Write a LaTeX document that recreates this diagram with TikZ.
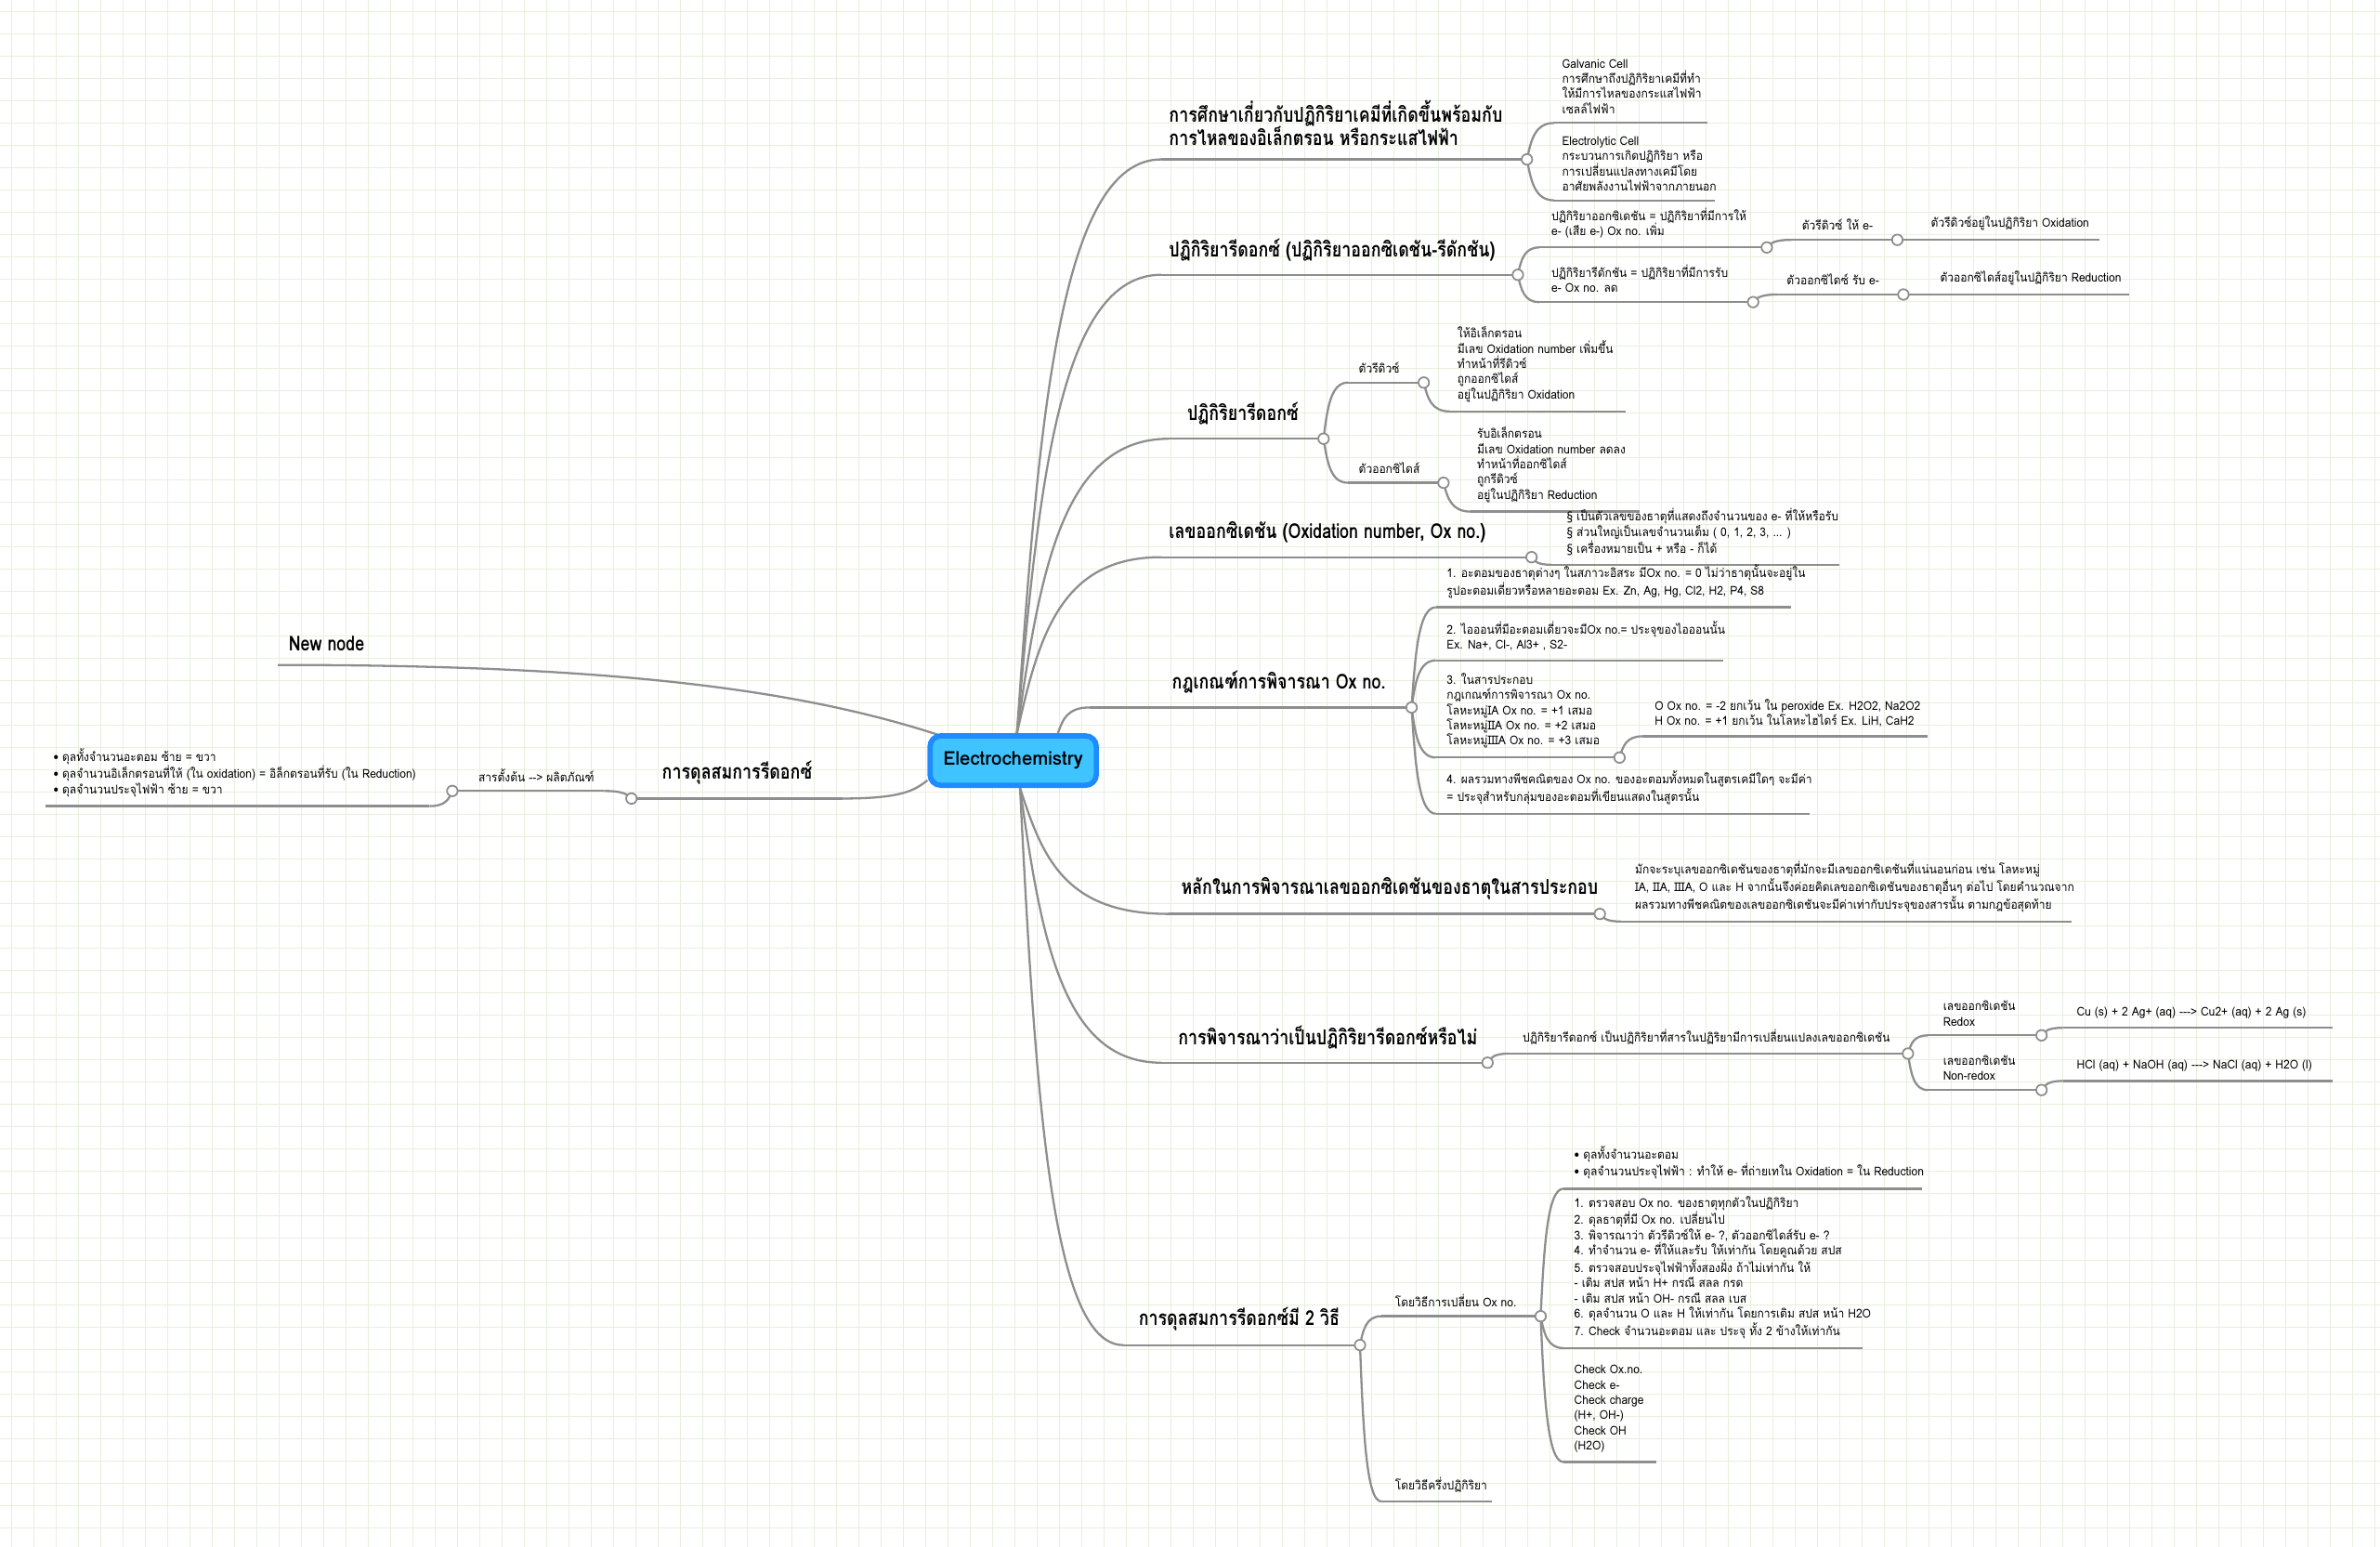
\documentclass[tikz,border=0pt]{standalone}
\usepackage{fontspec}
\setmainfont[Script=Thai, FakeStretch=0.92]{Loma}
\newfontfamily\hdfont[Script=Thai, FakeStretch=0.81]{Loma}
\newfontfamily\ctrfont[Script=Thai]{Loma}
\usetikzlibrary{calc}
\definecolor{lnc}{HTML}{8E8E8E}
\definecolor{grd}{HTML}{E6F0DC}
\definecolor{bdr}{HTML}{1E8CFF}
\definecolor{fil}{HTML}{40C4FF}
\tikzset{
 mml/.style={draw=lnc, line width=1.4pt},
 dot/.style={circle, draw=lnc, fill=white, line width=1.1pt, inner sep=0pt, minimum size=7pt},
 hd/.style={anchor=south west, inner sep=0pt, align=left, text=black, font=\hdfont\fontsize{13.5}{15.5}\selectfont\bfseries},
 txt/.style={anchor=south west, inner sep=0pt, align=left, text=black, font=\fontsize{8}{10}\selectfont},
}
\newcommand\mmc[2]{\draw[mml] let \p1=(#1), \p2=(#2) in (\p1) .. controls ({\x1+0.15*(\x2-\x1)},{\y1+0.55*(\y2-\y1)}) and ({\x1+0.3*(\x2-\x1)},{\y2}) .. (\p2);}
\begin{document}
\begin{tikzpicture}[x=1pt,y=-1pt]
\useasboundingbox (0,0) rectangle (1568,1019);
\fill[white] (0,0) rectangle (1568,1019);
\foreach \i in {0,...,106} {\draw[grd, line width=0.5pt] ({7.5+\i*14.69},0) -- ++(0,1019);}
\foreach \i in {0,...,69} {\draw[grd, line width=0.5pt] (0,{7.5+\i*14.69}) -- ++(1568,0);}

% ---------- coordinates
\coordinate (cT) at (670,483);
\coordinate (cT5) at (697,483);
\coordinate (cB) at (672,519);
\coordinate (cL1) at (618,484);
\coordinate (cL2) at (611,514);
% B1
\coordinate (B1s) at (765,105); \coordinate (B1o) at (1006,105);
\coordinate (G1s) at (1024,81); \coordinate (G1e) at (1125,81);
\coordinate (E1s) at (1024,132); \coordinate (E1e) at (1130,132);
% B2
\coordinate (B2s) at (765,181); \coordinate (B2o) at (1000,181);
\coordinate (OXs) at (1014,163); \coordinate (OXo) at (1164,163);
\coordinate (OAs) at (1180,158); \coordinate (OAo) at (1250,158);
\coordinate (OBs) at (1265,158); \coordinate (OBe) at (1383,158);
\coordinate (RDs) at (1014,199); \coordinate (RDo) at (1155,199);
\coordinate (RAs) at (1171,194); \coordinate (RAo) at (1254,194);
\coordinate (RBs) at (1268,194); \coordinate (RBe) at (1403,194);
% B3
\coordinate (B3s) at (770,289); \coordinate (B3o) at (872,289);
\coordinate (rAs) at (888,252); \coordinate (rAo) at (938,252);
\coordinate (rCs) at (955,271); \coordinate (rCe) at (1071,271);
\coordinate (oAs) at (888,318); \coordinate (oAo) at (951,318);
\coordinate (oCs) at (969,337); \coordinate (oCe) at (1080,337);
% B4
\coordinate (B4s) at (765,367); \coordinate (B4o) at (1009,367);
\coordinate (B4cs) at (1022,372); \coordinate (B4ce) at (1212,372);
% B5
\coordinate (B5s) at (718,466); \coordinate (B5o) at (930,466);
\coordinate (R1s) at (946,400); \coordinate (R1e) at (1180,400);
\coordinate (R2s) at (946,435); \coordinate (R2e) at (1135,435);
\coordinate (R3s) at (946,499); \coordinate (R3o) at (1067,499);
\coordinate (R3cs) at (1082,485); \coordinate (R3ce) at (1270,485);
\coordinate (R4s) at (946,536); \coordinate (R4e) at (1192,536);
% B6
\coordinate (B6s) at (770,602); \coordinate (B6o) at (1054,602);
\coordinate (B6cs) at (1068,607); \coordinate (B6ce) at (1365,607);
% B7
\coordinate (B7s) at (765,700); \coordinate (B7o) at (980,700);
\coordinate (B7cs) at (994,694); \coordinate (B7co) at (1257,694);
\coordinate (RXs) at (1270,682); \coordinate (RXo) at (1345,682);
\coordinate (CUs) at (1359,677); \coordinate (CUe) at (1537,677);
\coordinate (NRs) at (1270,718); \coordinate (NRo) at (1345,718);
\coordinate (HCs) at (1359,712); \coordinate (HCe) at (1537,712);
% B8
\coordinate (B8s) at (740,886); \coordinate (B8o) at (896,886);
\coordinate (M1s) at (910,867); \coordinate (M1o) at (1015,867);
\coordinate (MAs) at (1030,783); \coordinate (MAe) at (1266,783);
\coordinate (MBs) at (1030,888); \coordinate (MBe) at (1227,888);
\coordinate (MCs) at (1030,963); \coordinate (MCe) at (1091,963);
\coordinate (M2s) at (910,989); \coordinate (M2e) at (983,989);
% left
\coordinate (L1s) at (183,438);
\coordinate (L2o) at (416,526); \coordinate (L2e) at (555,526);
\coordinate (LCo) at (298,521); \coordinate (LCe) at (398,521);
\coordinate (LDs) at (30,531); \coordinate (LDe) at (283,531);

% ---------- connectors
\mmc{cT}{B1s} \draw[mml] (B1s) -- (B1o);
\mmc{B1o}{G1s} \draw[mml] (G1s) -- (G1e);
\mmc{B1o}{E1s} \draw[mml] (E1s) -- (E1e);
\mmc{cT}{B2s} \draw[mml] (B2s) -- (B2o);
\mmc{B2o}{OXs} \draw[mml] (OXs) -- (OXo);
\mmc{OXo}{OAs} \draw[mml] (OAs) -- (OAo);
\draw[mml] (OAo) -- (OBs) -- (OBe);
\mmc{B2o}{RDs} \draw[mml] (RDs) -- (RDo);
\mmc{RDo}{RAs} \draw[mml] (RAs) -- (RAo);
\draw[mml] (RAo) -- (RBs) -- (RBe);
\mmc{cT}{B3s} \draw[mml] (B3s) -- (B3o);
\mmc{B3o}{rAs} \draw[mml] (rAs) -- (rAo);
\mmc{rAo}{rCs} \draw[mml] (rCs) -- (rCe);
\mmc{B3o}{oAs} \draw[mml] (oAs) -- (oAo);
\mmc{oAo}{oCs} \draw[mml] (oCs) -- (oCe);
\mmc{cT}{B4s} \draw[mml] (B4s) -- (B4o);
\mmc{B4o}{B4cs} \draw[mml] (B4cs) -- (B4ce);
\mmc{cT5}{B5s} \draw[mml] (B5s) -- (B5o);
\mmc{B5o}{R1s} \draw[mml] (R1s) -- (R1e);
\mmc{B5o}{R2s} \draw[mml] (R2s) -- (R2e);
\mmc{B5o}{R3s} \draw[mml] (R3s) -- (R3o);
\mmc{R3o}{R3cs} \draw[mml] (R3cs) -- (R3ce);
\mmc{B5o}{R4s} \draw[mml] (R4s) -- (R4e);
\mmc{cB}{B6s} \draw[mml] (B6s) -- (B6o);
\mmc{B6o}{B6cs} \draw[mml] (B6cs) -- (B6ce);
\mmc{cB}{B7s} \draw[mml] (B7s) -- (B7o);
\mmc{B7o}{B7cs} \draw[mml] (B7cs) -- (B7co);
\mmc{B7co}{RXs} \draw[mml] (RXs) -- (RXo);
\mmc{RXo}{CUs} \draw[mml] (CUs) -- (CUe);
\mmc{B7co}{NRs} \draw[mml] (NRs) -- (NRo);
\mmc{NRo}{HCs} \draw[mml] (HCs) -- (HCe);
\mmc{cB}{B8s} \draw[mml] (B8s) -- (B8o);
\mmc{B8o}{M1s} \draw[mml] (M1s) -- (M1o);
\mmc{M1o}{MAs} \draw[mml] (MAs) -- (MAe);
\mmc{M1o}{MBs} \draw[mml] (MBs) -- (MBe);
\mmc{M1o}{MCs} \draw[mml] (MCs) -- (MCe);
\mmc{B8o}{M2s} \draw[mml] (M2s) -- (M2e);
\draw[mml] (L1s) .. controls (390,438) and (520,452) .. (cL1);
\mmc{cL2}{L2e} \draw[mml] (L2e) -- (L2o);
\mmc{L2o}{LCe} \draw[mml] (LCe) -- (LCo);
\mmc{LCo}{LDe} \draw[mml] (LDe) -- (LDs);

% ---------- dots
\foreach \c in {B1o,B2o,OXo,OAo,RDo,RAo,B3o,rAo,oAo,B4o,B5o,R3o,B6o,B7o,B7co,RXo,NRo,B8o,M1o,L2o,LCo}
  {\node[dot] (d\c) at (\c) {};}

% ---------- texts
\node[hd] (tB1) at (770,96) {การศึกษาเกี่ยวกับปฏิกิริยาเคมีที่เกิดขึ้นพร้อมกับ\\การไหลของอิเล็กตรอน หรือกระแสไฟฟ้า};
\node[txt] (tG1) at (1029,75) {Galvanic Cell\\การศึกษาถึงปฏิกิริยาเคมีที่ทำ\\ให้มีการไหลของกระแสไฟฟ้า\\เซลล์ไฟฟ้า};
\node[txt] (tE1) at (1029,126) {Electrolytic Cell\\กระบวนการเกิดปฏิกิริยา หรือ\\การเปลี่ยนแปลงทางเคมีโดย\\อาศัยพลังงานไฟฟ้าจากภายนอก};

\node[hd] (tB2) at (770,172) {ปฏิกิริยารีดอกซ์ (ปฏิกิริยาออกซิเดชัน-รีดักชัน)};
\node[txt] (tOX) at (1022,157) {ปฏิกิริยาออกซิเดชัน = ปฏิกิริยาที่มีการให้\\e- (เสีย e-) Ox no. เพิ่ม};
\node[txt] (tOA) at (1187,152) {ตัวรีดิวซ์ ให้ e-};
\node[txt] (tOB) at (1272,152) {ตัวรีดิวซ์อยู่ในปฏิกิริยา Oxidation};
\node[txt] (tRD) at (1022,193) {ปฏิกิริยารีดักชัน = ปฏิกิริยาที่มีการรับ\\e- Ox no. ลด};
\node[txt] (tRA) at (1177,188) {ตัวออกซิไดซ์ รับ e-};
\node[txt] (tRB) at (1278,188) {ตัวออกซิไดส์อยู่ในปฏิกิริยา Reduction};

\node[hd] (tB3) at (782,280) {ปฏิกิริยารีดอกซ์};
\node[txt] (trA) at (895,246) {ตัวรีดิวซ์};
\node[txt] (trC) at (960,265) {ให้อิเล็กตรอน\\มีเลข Oxidation number เพิ่มขึ้น\\ทำหน้าที่รีดิวซ์\\ถูกออกซิไดส์\\อยู่ในปฏิกิริยา Oxidation};
\node[txt] (toA) at (895,312) {ตัวออกซิไดส์};
\node[txt] (toC) at (973,331) {รับอิเล็กตรอน\\มีเลข Oxidation number ลดลง\\ทำหน้าที่ออกซิไดส์\\ถูกรีดิวซ์\\อยู่ในปฏิกิริยา Reduction};

\node[hd] (tB4) at (770,358) {เลขออกซิเดชัน (Oxidation number, Ox no.)};
\node[txt] (tB4c) at (1032,366) {§ เป็นตัวเลขของธาตุที่แสดงถึงจำนวนของ e- ที่ให้หรือรับ\\§ ส่วนใหญ่เป็นเลขจำนวนเต็ม ( 0, 1, 2, 3, ... )\\§ เครื่องหมายเป็น + หรือ - ก็ได้};

\node[hd] (tB5) at (772,457) {กฎเกณฑ์การพิจารณา Ox no.};
\node[txt] (tR1) at (953,394) {1. อะตอมของธาตุต่างๆ ในสภาวะอิสระ มีOx no. = 0 ไม่ว่าธาตุนั้นจะอยู่ใน\\รูปอะตอมเดี่ยวหรือหลายอะตอม Ex. Zn, Ag, Hg, Cl2, H2, P4, S8};
\node[txt] (tR2) at (953,429) {2. ไอออนที่มีอะตอมเดี่ยวจะมีOx no.= ประจุของไอออนนั้น\\Ex. Na+, Cl-, Al3+ , S2-};
\node[txt] (tR3) at (953,493) {3. ในสารประกอบ\\กฎเกณฑ์การพิจารณา Ox no.\\โลหะหมู่IA Ox no. = +1 เสมอ\\โลหะหมู่IIA Ox no. = +2 เสมอ\\โลหะหมู่IIIA Ox no. = +3 เสมอ};
\node[txt] (tR3c) at (1090,479) {O Ox no. = -2 ยกเว้น ใน peroxide Ex. H2O2, Na2O2\\H Ox no. = +1 ยกเว้น ในโลหะไฮไดร์ Ex. LiH, CaH2};
\node[txt] (tR4) at (953,530) {4. ผลรวมทางพีชคณิตของ Ox no. ของอะตอมทั้งหมดในสูตรเคมีใดๆ จะมีค่า\\= ประจุสำหรับกลุ่มของอะตอมที่เขียนแสดงในสูตรนั้น};

\node[hd] (tB6) at (778,593) {หลักในการพิจารณาเลขออกซิเดชันของธาตุในสารประกอบ};
\node[txt] (tB6c) at (1077,601) {มักจะระบุเลขออกซิเดชันของธาตุที่มักจะมีเลขออกซิเดชันที่แน่นอนก่อน เช่น โลหะหมู่\\IA, IIA, IIIA, O และ H จากนั้นจึงค่อยคิดเลขออกซิเดชันของธาตุอื่นๆ ต่อไป โดยคำนวณจาก\\ผลรวมทางพีชคณิตของเลขออกซิเดชันจะมีค่าเท่ากับประจุของสารนั้น ตามกฎข้อสุดท้าย};

\node[hd] (tB7) at (776,691) {การพิจารณาว่าเป็นปฏิกิริยารีดอกซ์หรือไม่};
\node[txt] (tB7c) at (1003,688) {ปฏิกิริยารีดอกซ์ เป็นปฏิกิริยาที่สารในปฏิริยามีการเปลี่ยนแปลงเลขออกซิเดชัน};
\node[txt] (tRX) at (1280,676) {เลขออกซิเดชัน\\Redox};
\node[txt] (tCU) at (1368,671) {Cu (s) + 2 Ag+ (aq) -{}-{}-> Cu2+ (aq) + 2 Ag (s)};
\node[txt] (tNR) at (1280,712) {เลขออกซิเดชัน\\Non-redox};
\node[txt] (tHC) at (1368,706) {HCl (aq) + NaOH (aq) -{}-{}-> NaCl (aq) + H2O (l)};

\node[hd] (tB8) at (750,877) {การดุลสมการรีดอกซ์มี 2 วิธี};
\node[txt] (tM1) at (919,861) {โดยวิธีการเปลี่ยน Ox no.};
\node[txt] (tMA) at (1037,777) {• ดุลทั้งจำนวนอะตอม\\• ดุลจำนวนประจุไฟฟ้า : ทำให้ e- ที่ถ่ายเทใน Oxidation = ใน Reduction};
\node[txt] (tMB) at (1037,882) {1. ตรวจสอบ Ox no. ของธาตุทุกตัวในปฏิกิริยา\\2. ดุลธาตุที่มี Ox no. เปลี่ยนไป\\3. พิจารณาว่า ตัวรีดิวซ์ให้ e- ?, ตัวออกซิไดส์รับ e- ?\\4. ทำจำนวน e- ที่ให้และรับ ให้เท่ากัน โดยคูณด้วย สปส\\5. ตรวจสอบประจุไฟฟ้าทั้งสองฝั่ง ถ้าไม่เท่ากัน ให้\\- เติม สปส หน้า H+ กรณี สลล กรด\\- เติม สปส หน้า OH- กรณี สลล เบส\\6. ดุลจำนวน O และ H ให้เท่ากัน โดยการเติม สปส หน้า H2O\\7. Check จำนวนอะตอม และ ประจุ ทั้ง 2 ข้างให้เท่ากัน};
\node[txt] (tMC) at (1037,957) {Check Ox.no.\\Check e-\\Check charge\\(H+, OH-)\\Check OH\\(H2O)};
\node[txt] (tM2) at (919,983) {โดยวิธีครึ่งปฏิกิริยา};

\node[hd] (tL1) at (190,429) {New node};
\node[hd] (tL2) at (436,517) {การดุลสมการรีดอกซ์};
\node[txt] (tLC) at (315,515) {สารตั้งต้น -{}-> ผลิตภัณฑ์};
\node[txt] (tLD) at (35,525) {• ดุลทั้งจำนวนอะตอม ซ้าย = ขวา\\• ดุลจำนวนอิเล็กตรอนที่ให้ (ใน oxidation) = อิล็กตรอนที่รับ (ใน Reduction)\\• ดุลจำนวนประจุไฟฟ้า ซ้าย = ขวา};

% ---------- center
\node[draw=bdr, fill=fil, line width=3.5pt, rounded corners=7pt, minimum width=109.5pt, minimum height=32.5pt, inner sep=0pt, font=\ctrfont\fontsize{12.5}{14}\selectfont\bfseries] (ctr) at (667.5,501) {Electrochemistry};
\end{tikzpicture}
\end{document}
